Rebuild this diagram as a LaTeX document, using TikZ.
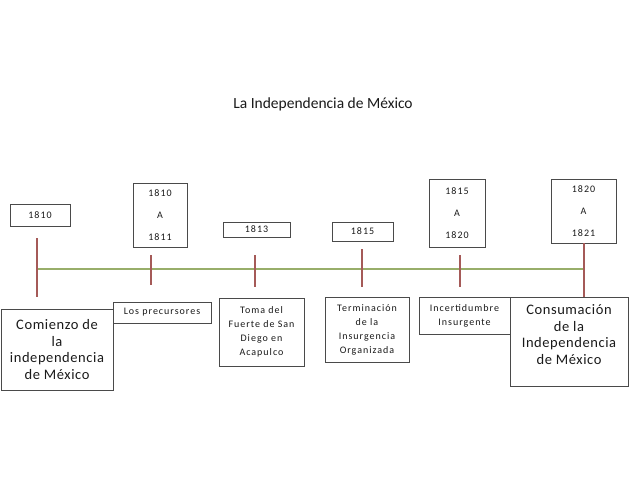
\documentclass[tikz,border=0pt]{standalone}
\usepackage{fontspec}
\setmainfont{Carlito}
\newfontfamily\spacedfont[LetterSpace=10]{Carlito}
\newfontfamily\softspaced[LetterSpace=4]{Carlito}
\usetikzlibrary{positioning}
\definecolor{INK}{HTML}{1A1A1A}
\definecolor{EDGE}{HTML}{4A4A4A}
\definecolor{TICK}{HTML}{A55A58}
\definecolor{AXIS}{HTML}{98AE6A}

\begin{document}
\begin{tikzpicture}[x=1pt,y=-1pt]
\tikzset{box/.style={draw=EDGE,line width=0.8pt,fill=white,inner sep=1pt,align=center,text=INK},
 yr/.style={box,font=\spacedfont\fontsize{10}{22}\selectfont},
 sm/.style={box,font=\spacedfont\fontsize{10}{14}\selectfont},
 big/.style={box,font=\softspaced\fontsize{14.5}{16.5}\selectfont},
 tick/.style={TICK,line width=2.8pt},axis/.style={AXIS,line width=2.8pt}}
\useasboundingbox[fill=white] (0,0) rectangle (638,479);
\node[font=\fontsize{15.5}{18}\selectfont,text=INK] (title) at (323,104) {La Independencia de México};
% linea del tiempo
\coordinate (axL) at (37,269); \coordinate (axR) at (583,269);
\draw[axis] (axL) -- (axR);
\foreach \x/\a/\b in {37/238/297,151/255/285,255/255/287,362/249/287,460/255/287}
 \draw[tick] (\x,\a) -- (\x,\b);
% fechas
\node[yr,minimum width=60,minimum height=22] (t1810) at (40,215) {1810};
\node[yr,minimum width=54,minimum height=64] (t1811) at (160,215) {1810\\A\\1811};
\node[yr,minimum width=67,minimum height=15] (t1813) at (256.5,229.5) {1813};
\node[yr,minimum width=61,minimum height=19] (t1815) at (362.5,231.5) {1815};
\node[yr,minimum width=56,minimum height=68] (t1820) at (457,213) {1815\\A\\1820};
\node[yr,minimum width=65,minimum height=64] (t1821) at (583.5,211) {1820\\A\\1821};
% sucesos
\node[big,minimum width=112,minimum height=81] (bComienzo) at (57,349.5) {Comienzo de\\la\\independencia\\de México};
\node[sm,minimum width=98,minimum height=21] (bPrec) at (162,312.5) {Los precursores};
\node[sm,minimum width=85,minimum height=68] (bToma) at (261.5,332) {Toma del\\Fuerte de San\\Diego en\\Acapulco};
\node[sm,minimum width=84,minimum height=65] (bTerm) at (367,329.5) {Terminación\\de la\\Insurgencia\\Organizada};
\node[sm,minimum width=91,minimum height=37] (bIncert) at (464.5,315.5) {Incertidumbre\\Insurgente};
\node[big,minimum width=118,minimum height=89,text depth=14pt] (bConsum) at (569,341.5) {Consumación\\de la\\Independencia\\de México};
\draw[tick,line width=2pt] (t1821.south) -- (t1821.south |- bConsum.north);
\end{tikzpicture}
\end{document}
